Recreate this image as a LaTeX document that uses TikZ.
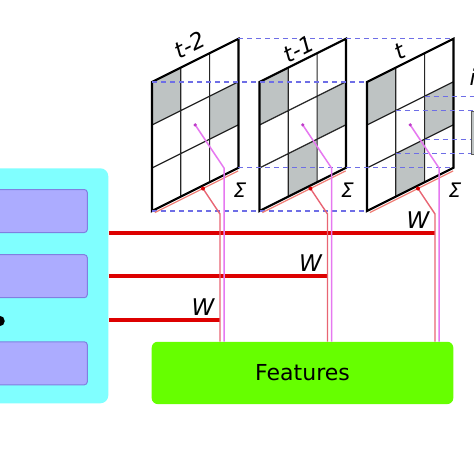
\documentclass[tikz,border=0pt]{standalone}
\usepackage{fontspec}
\setmainfont{DejaVu Sans}
\definecolor{panelcyan}{RGB}{128,255,255}
\definecolor{boxfill}{RGB}{172,172,255}
\definecolor{boxdraw}{RGB}{128,128,224}
\definecolor{featgreen}{RGB}{102,255,0}
\definecolor{wred}{RGB}{221,0,0}
\definecolor{salmonc}{RGB}{240,128,120}
\definecolor{salmonv}{RGB}{232,100,115}
\definecolor{magc}{RGB}{230,120,240}
\definecolor{magdot}{RGB}{190,60,200}
\definecolor{dashblue}{RGB}{110,110,230}
\definecolor{cellgray}{RGB}{190,195,195}
\definecolor{rectedge}{RGB}{90,90,90}
\begin{document}
\begin{tikzpicture}[x=1pt,y=-1pt,
  panel/.style={fill=panelcyan, rounded corners=8pt, inner sep=0pt},
  inbox/.style={fill=boxfill, draw=boxdraw, line width=1pt, rounded corners=3pt, inner sep=0pt, minimum width=107pt, minimum height=43pt},
  featbox/.style={fill=featgreen, rounded corners=6pt, inner sep=0pt, minimum width=301.6pt, minimum height=62.3pt, font=\fontsize{22}{26}\selectfont},
  gridin/.style={draw=black!85, line width=1.2pt},
  gridout/.style={draw=black, line width=2.2pt, line join=miter},
  dashline/.style={draw=dashblue, line width=1.1pt, dash pattern=on 5pt off 4pt},
  magline/.style={draw=magc, line width=1.5pt},
  salline/.style={draw=salmonc, line width=1.2pt},
  salvert/.style={draw=salmonv, line width=1.4pt},
  wline/.style={draw=wred, line width=3.6pt},
  wlab/.style={font=\fontsize{23}{27}\selectfont\itshape, inner sep=0pt},
  siglab/.style={font=\fontsize{20}{24}\selectfont\itshape, inner sep=0pt},
  tlab/.style={font=\fontsize{22.5}{26}\selectfont\itshape, inner sep=0pt, rotate=26.57},
  zoomcell/.style={fill=cellgray, draw=rectedge, line width=1.3pt, inner sep=0pt, anchor=north west}
]
\useasboundingbox (0,0) rectangle (474,474);

% left panel
\node[panel, minimum width=130pt, minimum height=235pt] (panel) at (43.3,285.8) {};
\node[inbox] (b1) at (33.8,211) {};
\node[inbox] (b2) at (33.8,276.2) {};
\node[inbox] (b3) at (33.8,363.3) {};
\node[circle, fill=black, minimum size=10.5pt, inner sep=0pt] (dots) at (-0.5,321) {};

% features
\node[featbox] (feat) at (302.5,372.9) {Features};

% grids
\foreach \i/\xo/\cells in {0/152/{0/0,2/1}, 1/259.5/{0/0,2/1,1/2}, 2/367/{0/0,2/1,1/2}} {
  \begin{scope}[shift={(\xo,82)}, x={(28.8pt,14.4pt)}, y={(0pt,-43pt)}]
    \fill[white] (0,0) -- (3,0) -- (3,3) -- (0,3) -- cycle;
    \foreach \c/\r in \cells {
      \fill[cellgray] (\c,\r) -- (\c+1,\r) -- (\c+1,\r+1) -- (\c,\r+1) -- cycle;
    }
    \draw[gridin] (1,0) -- (1,3) (2,0) -- (2,3) (0,1) -- (3,1) (0,2) -- (3,2);
    \draw[gridout] (0,0) -- (3,0) -- (3,3) -- (0,3) -- cycle;
    \coordinate (g\i-TL) at (0,0);
    \coordinate (g\i-TR) at (3,0);
    \coordinate (g\i-BR) at (3,3);
    \coordinate (g\i-BL) at (0,3);
    \coordinate (g\i-c) at (1.5,1.5);
    \coordinate (g\i-11) at (1,1);
    \coordinate (g\i-12) at (1,2);
    \coordinate (g\i-21) at (2,1);
    \coordinate (g\i-22) at (2,2);
    \coordinate (g\i-sa) at (0.1,3.07);
    \coordinate (g\i-sz) at (2.99,3.07);
    \coordinate (g\i-s) at (1.77,3.07);
  \end{scope}
  \coordinate (g\i-mb) at (\xo+72,168);
  \coordinate (g\i-sb) at (\xo+68,214);
}

% dashed connectors between frames
\draw[dashline] (g0-TR) -- (g2-TR);
\draw[dashline] (g0-TL) -- (g2-TL);
\draw[dashline] (g0-BR) -- (g2-BR);
\draw[dashline] (g0-BL) -- (g2-BL);

% zoomed cell at right edge
\coordinate (zr-top) at (471,110.6);
\coordinate (zr-end) at (490,0);
\draw[dashline] (g2-21) -- (g2-21 -| zr-end);
\draw[dashline] (g2-11) -- (g2-11 -| zr-end);
\draw[dashline] (g2-22) -- (g2-22 -| zr-end);
\draw[dashline] (g2-12) -- (g2-12 -| zr-end);
\node[zoomcell, minimum width=20pt, minimum height=43pt] (zr) at (zr-top) {};
\node[font=\fontsize{22}{26}\selectfont\itshape, inner sep=0pt, anchor=west] (ilab) at (469.5,77) {i};

% W lines
\foreach \i/\yw in {0/320, 1/276, 2/233} {
  \coordinate (w\i) at (109,\yw);
  \draw[wline] (w\i) -- (w\i -| g\i-sb);
}

% sums and features links
\foreach \i/\xo/\yw/\lab/\lx/\ly in {0/152/320/t-2/190/45, 1/259.5/276/t-1/299/49, 2/367/233/t/400/51} {
  \draw[salline] (g\i-sa) -- (g\i-sz);
  \draw[salvert] (g\i-s) -- (g\i-sb) -- (g\i-sb |- feat.north);
  \fill[red!85!black] (g\i-s) circle (2);
  \draw[magline] (g\i-c) -- (g\i-mb) -- (g\i-mb |- feat.north);
  \fill[magdot] (g\i-c) circle (1.8);
  \node[wlab] (W\i) at (\xo+51,\yw-13) {W};
  \node[siglab] (S\i) at (\xo+88,190) {Σ};
  \node[tlab] (T\i) at (\lx,\ly) {\lab};
}
\end{tikzpicture}
\end{document}
